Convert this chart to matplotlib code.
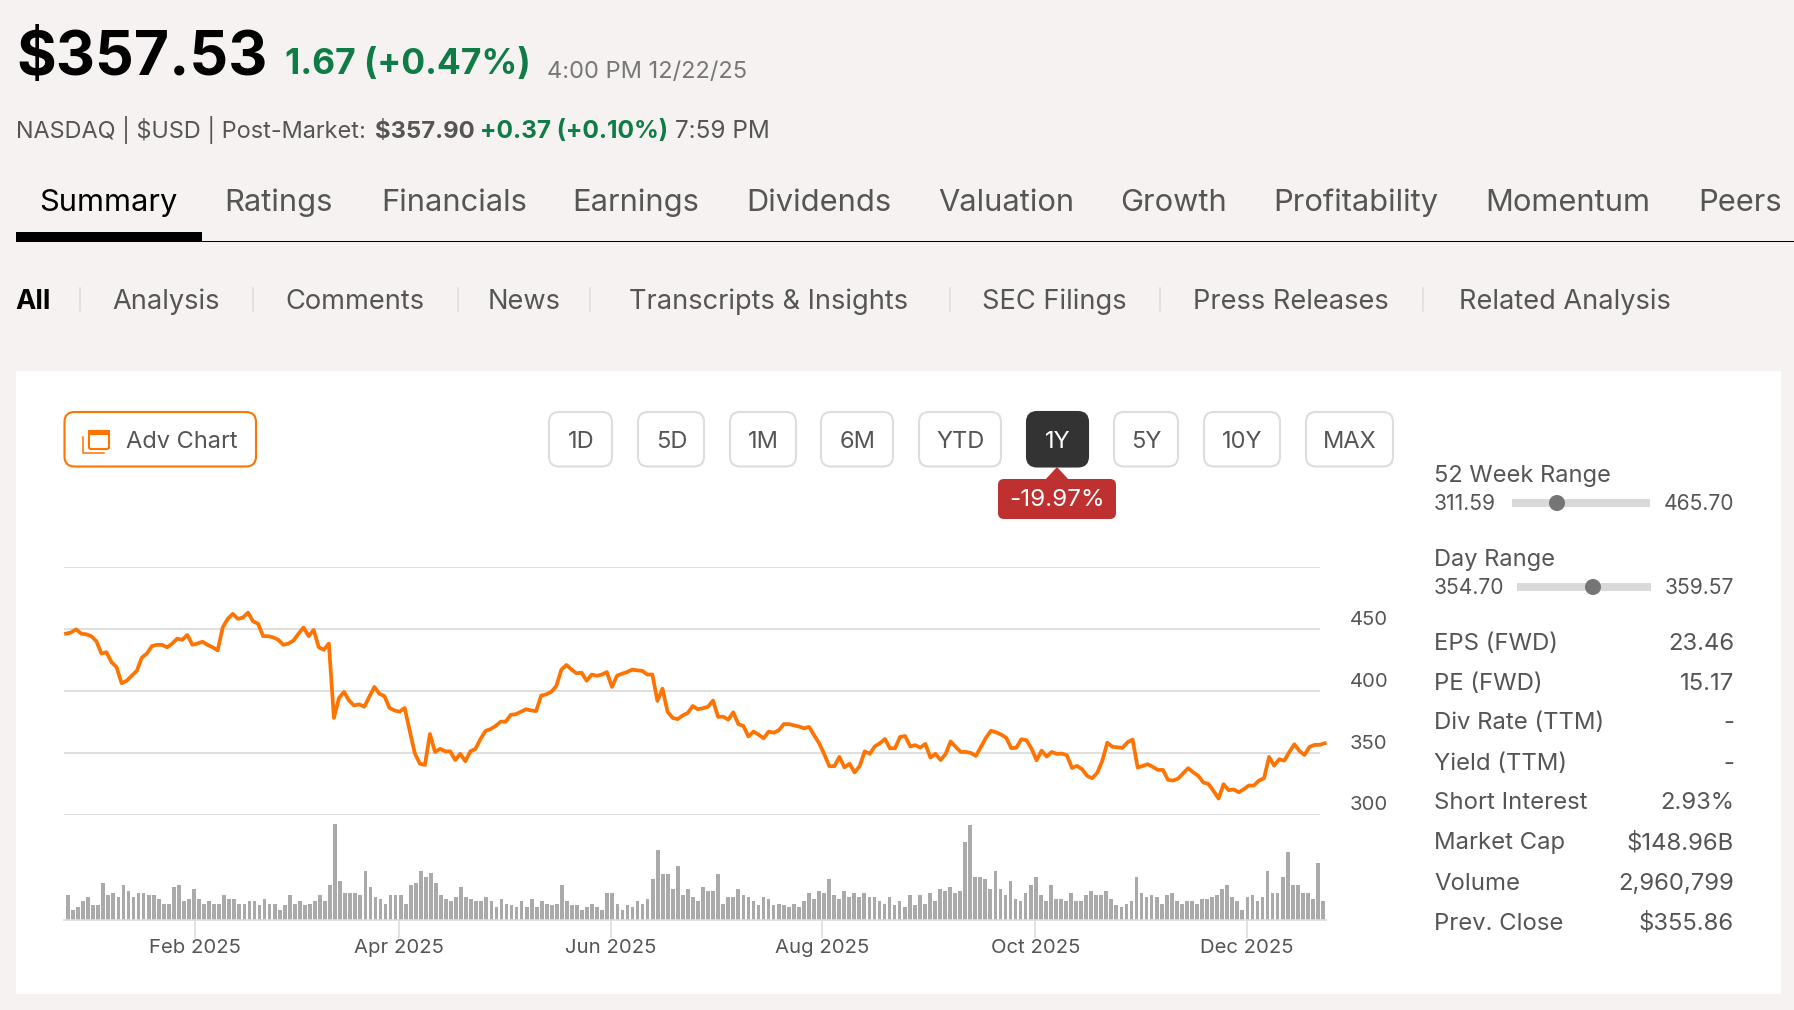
import numpy as np
import matplotlib
matplotlib.use("Agg")
import matplotlib.pyplot as plt
from matplotlib.patches import FancyBboxPatch, Rectangle, Polygon, Circle

W, H = 1794, 1010
plt.rcParams['font.family'] = ['Inter', 'DejaVu Sans']

BG = '#f5f2f1'; TXT = '#555555'; GREEN = '#0f7b47'; ORANGE = '#ff7300'
RED = '#bf3030'; GRID = '#d9d9d9'; BAR = '#aaaaaa'

price = [446,447,449.5,446,445.5,444,440,430,431,423,419,406,408,412,416,426.6,430,436,437,437,
 435,438,442,441,445,437,438,439.5,437,435,432.5,451,458,462,458,459,463,456,454,444,
 444,443,441,437,438,440.5,446,451,444,449,435,433,438,378,394,399,392,388,389,387,
 395,403,397.5,395.5,386,384,383,386,367.5,349.5,341,340,365,350.5,353,351,351,344,349,343,
 351,353,361,367.5,369,371.5,375,375,380.5,381,383,385,384,383.5,396,397,399,
 403.8,417,420.7,417,414,414.5,408,413,412,413,415,403,412,413.7,415,417,416.4,416,413,413,
 391.7,401.6,383,378,377,380,382,387.6,385,385.8,387,392,378.8,379,376.6,382.5,373,371.5,363,367,
 364.5,361.5,367,366,368,373,373,372,371,369.6,370.7,364,357.5,348.7,339,339,346.5,338,341,334,
 339,351,349,355,357.5,361,353.5,353.5,362.6,363.4,355,356,354,357,346,349,344,348.7,359,354.6,
 350.5,350.5,349.7,347.3,354.6,
 362,367.7,366.4,364.5,362,353.5,354,360.8,360,353.2,343.8,351.6,346.8,350.5,349,349.2,347.8,337.6,339.2,336.6,
 331.2,329.3,333.6,343.3,358,354.6,354.3,353.8,358.3,360.5,337.9,339.2,340.6,338.4,336,336,328,327.4,329,333.3,
 337.4,334,331.2,325.8,324.7,319,312.9,324.5,319.6,320.2,318,320.4,323.4,323.4,327.4,329.3,346.5,339.5,344.6,343.5,
 350.5,356.7,351.3,348.1,354.6,356.2,356.2,357.53]

volume_m = [4.0,1.6,2.0,3.0,3.6,2.3,2.3,5.9,4.0,4.3,3.6,5.6,4.6,3.6,4.3,4.3,4.0,4.0,3.3,2.6,2.6,5.3,5.6,3.0,3.3,5.0,3.3,2.6,3.0,2.6,
 2.6,4.0,3.3,3.3,2.6,2.6,3.0,3.0,2.3,3.3,2.6,2.6,1.6,2.3,4.0,2.6,3.0,2.3,2.6,3.0,4.0,3.0,5.6,15.5,6.3,4.3,4.3,4.3,4.0,7.9,
 5.3,3.6,3.3,2.6,4.0,4.0,4.0,2.6,5.6,5.9,7.9,6.9,7.6,5.9,4.0,3.3,3.0,3.6,5.3,3.6,3.3,3.0,3.0,3.6,3.0,2.0,
 3.3,2.6,2.3,2.0,3.0,2.0,3.3,2.0,3.0,2.6,2.3,2.6,5.6,3.0,2.3,2.3,1.6,2.0,2.6,2.0,1.6,4.3,4.3,2.6,1.6,2.3,2.0,3.0,2.6,3.3,6.6,11.2,
 7.3,7.3,5.0,8.6,4.0,5.0,3.6,3.0,5.3,4.6,4.6,7.3,2.6,3.6,3.6,5.0,4.0,3.6,3.0,2.3,3.6,3.3,2.3,2.6,2.3,2.0,2.6,2.0,3.0,4.3,3.3,4.6,
 4.3,6.6,4.0,3.3,4.6,3.6,4.3,3.6,4.3,3.6,3.6,3.0,2.6,3.6,2.3,3.0,2.0,4.0,2.3,4.0,2.6,4.3,3.0,5.0,
 4.6,5.3,4.3,4.6,12.5,15.2,6.9,6.9,6.6,5.0,7.9,5.0,4.0,6.3,3.3,3.0,4.3,5.6,6.9,4.0,3.0,5.6,3.3,3.3,3.0,4.3,3.0,3.0,4.0,4.6,
 4.0,4.0,4.6,3.3,2.3,2.0,2.6,3.0,6.9,4.3,3.6,4.0,3.6,2.6,4.0,4.3,3.0,2.6,3.0,3.0,2.6,3.3,3.3,3.6,4.0,5.0,5.6,3.6,3.0,1.6,
 3.6,4.0,3.0,3.6,7.9,4.3,4.3,6.9,10.9,5.6,5.6,4.3,4.3,3.3,9.2,2.96]

price_ticks = [300, 350, 400, 450, 500]
price_tick_labels = ['300', '350', '400', '450', '']
month_positions = [25.1, 65.6, 107.7, 149.7, 191.9, 233.9]
month_labels = ['Feb 2025', 'Apr 2025', 'Jun 2025', 'Aug 2025', 'Oct 2025', 'Dec 2025']

tabs = ['Summary','Ratings','Financials','Earnings','Dividends','Valuation','Growth','Profitability','Momentum','Peers']
tab_x = [39,224,381,572,746,938,1120,1273,1485,1698]
subtabs = ['All','Analysis','Comments','News','Transcripts & Insights','SEC Filings','Press Releases','Related Analysis']
subtab_x = [15,112,285,488,629,982,1193,1459]
sep_x = [80,253,458,590,950,1160,1423]
range_btns = ['1D','5D','1M','6M','YTD','1Y','5Y','10Y','MAX']
range_l = [549,638,730,821,919,1027,1114,1204,1306]
range_r = [612,704,796,893,1001,1088,1178,1280,1393]
stat_names = ['EPS (FWD)','PE (FWD)','Div Rate (TTM)','Yield (TTM)','Short Interest','Market Cap','Volume','Prev. Close']
stat_vals = ['23.46','15.17','-','-','2.93%','$148.96B','2,960,799','$355.86']
stat_y = [650,690,729,770,809,849,890,930]

fig = plt.figure(figsize=(W/100, H/100), dpi=100, facecolor=BG)
bg = fig.add_axes([0, 0, 1, 1], zorder=0)
bg.set_xlim(0, W); bg.set_ylim(H, 0); bg.axis('off')

def T(x, y, s, size=17.2, color=TXT, weight='normal', ha='left', va='baseline'):
    return bg.text(x, y, s, fontsize=size, color=color, fontweight=weight, ha=ha, va=va)

def box(l, t, r, b, fc='white', ec='none', lw=1.5, rad=10):
    bg.add_patch(FancyBboxPatch((l, t), r-l, b-t, boxstyle=f'round,pad=0,rounding_size={rad}',
                                fc=fc, ec=ec, lw=lw))

# header
T(16, 75, '$357.53', 43.8, 'black', 'bold')
T(285, 74, '1.67 (+0.47%)', 25.5, GREEN, 'bold')
T(547, 78, '4:00 PM 12/22/25', 17, '#777777')
T(16, 138, 'NASDAQ | $USD | Post-Market:', 16.9)
T(375, 138, '$357.90', 17.2, TXT, 'bold')
T(480, 138, '+0.37 (+0.10%)', 17.6, GREEN, 'bold')
T(675, 138, '7:59 PM', 17.5)

# tabs
for i, (s, x) in enumerate(zip(tabs, tab_x)):
    T(x, 211, s, 22.2, 'black' if i == 0 else TXT)
bg.add_patch(Rectangle((16, 240.5), W-16, 1.6, fc='black', ec='none'))
bg.add_patch(Rectangle((16, 232), 186, 9, fc='black', ec='none'))
for i, (s, x) in enumerate(zip(subtabs, subtab_x)):
    T(x, 309, s, 19.6, 'black' if i == 0 else TXT, 'bold' if i == 0 else 'normal')
for x in sep_x:
    bg.plot([x, x], [288, 311], color='#dddddd', lw=1.1)

# panel
bg.add_patch(Rectangle((16, 371), 1765, 623, fc='white', ec='none'))
box(64.5, 412, 256, 466.5, ec=ORANGE, lw=1.5)
T(126, 447.5, 'Adv Chart', 17)
bg.add_patch(FancyBboxPatch((89, 431), 20, 18, boxstyle='round,pad=0,rounding_size=2', fc='white', ec=ORANGE, lw=1.5))
bg.add_patch(Rectangle((88, 430), 22, 5, fc=ORANGE, ec='none'))
bg.plot([83, 83, 104], [437, 453, 453], color=ORANGE, lw=1.1)

for s, l, r in zip(range_btns, range_l, range_r):
    active = s == '1Y'
    box(l, 412, r, 466.5, fc='#333333' if active else 'white', ec='#333333' if active else '#dddddd')
    T((l+r)/2+0.5, 447.5, s, 17, 'white' if active else TXT, ha='center')
bg.add_patch(Polygon([(1045, 480), (1057, 467), (1069, 480)], fc=RED, ec='none'))
box(998, 479, 1116, 519, fc=RED, rad=6)
T(1057, 506, '-19.97%', 17.4, 'white', ha='center')

# ranges
T(1434, 482, '52 Week Range', 17)
T(1434, 510, '311.59', 15.2)
T(1734, 510, '465.70', 15.2, ha='right')
bg.add_patch(Rectangle((1512, 499), 138, 8, fc='#d9d9d9', ec='none'))
bg.add_patch(Circle((1557, 503), 8, fc='#757575', ec='none'))
T(1434, 566, 'Day Range', 17)
T(1434, 594, '354.70', 15.2)
T(1734, 594, '359.57', 15.2, ha='right')
bg.add_patch(Rectangle((1517, 583), 134, 8, fc='#d9d9d9', ec='none'))
bg.add_patch(Circle((1593, 587), 8, fc='#757575', ec='none'))
for n, v, y in zip(stat_names, stat_vals, stat_y):
    T(1434, y, n, 17.2)
    T(1734, y, v, 17.2, ha='right')

def axes_px(l, t, r, b, **kw):
    return fig.add_axes([l/W, 1-b/H, (r-l)/W, (b-t)/H], **kw)

# price panel
ax = axes_px(64, 566.8, 1320, 814.5, zorder=2)
ax.patch.set_alpha(0)
ax.plot(np.arange(len(price)), price, color=ORANGE, lw=2.7, solid_joinstyle='round', clip_on=False, zorder=3)
ax.set_xlim(-0.396, 248.07)
ax.set_ylim(300, 500)
ax.set_yticks(price_ticks, price_tick_labels)
ax.set_xticks([])
ax.yaxis.tick_right()
ax.tick_params(axis='y', length=0, pad=21.5, labelsize=14.6, labelcolor=TXT)
for lab in ax.get_yticklabels():
    lab.set_va('bottom')
ax.grid(axis='y', color=GRID, lw=1.2)
ax.set_axisbelow(True)
for sp in ax.spines.values():
    sp.set_visible(False)

# volume panel
vx = axes_px(64, 820, 1326, 919.7, zorder=2)
vx.patch.set_alpha(0)
vx.bar(np.arange(len(volume_m)), volume_m, width=0.74, color=BAR, linewidth=0)
vx.set_xlim(-0.794, 249.6)
vx.set_ylim(0, 99.7/6.2)
vx.set_yticks([])
vx.set_xticks(month_positions, month_labels)
vx.tick_params(axis='x', length=13, width=1.2, color='#dddddd', pad=0.8, labelsize=14.6, labelcolor=TXT)
for k, sp in vx.spines.items():
    sp.set_visible(k == 'bottom')
vx.spines['bottom'].set_color('#dddddd')
vx.spines['bottom'].set_linewidth(1.2)

fig.savefig('out.png', dpi=100, facecolor=BG)
